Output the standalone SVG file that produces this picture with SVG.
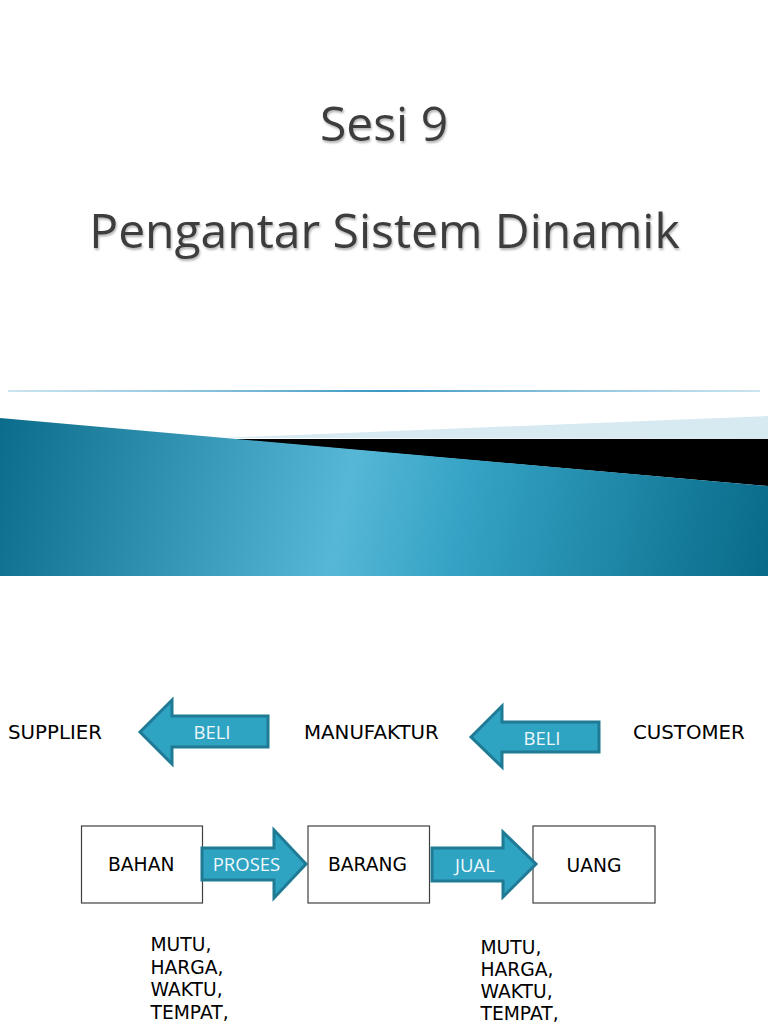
<svg xmlns="http://www.w3.org/2000/svg" width="768" height="1024" viewBox="0 0 768 1024">
<defs>
<linearGradient id="teal" gradientUnits="userSpaceOnUse" x1="0" y1="420" x2="768" y2="580">
<stop offset="0" stop-color="#0b6d8b"/>
<stop offset="0.45" stop-color="#57b7d6"/>
<stop offset="0.6" stop-color="#35a3c5"/>
<stop offset="1" stop-color="#086a88"/>
</linearGradient>
<linearGradient id="rule" gradientUnits="userSpaceOnUse" x1="8" y1="0" x2="760" y2="0">
<stop offset="0" stop-color="#7dbcd9" stop-opacity="0.4"/>
<stop offset="0.5" stop-color="#3a98c4"/>
<stop offset="1" stop-color="#7dbcd9" stop-opacity="0.4"/>
</linearGradient>
<filter id="shadow" x="-5%" y="-20%" width="110%" height="150%">
<feDropShadow dx="1" dy="2" stdDeviation="1.2" flood-color="#000" flood-opacity="0.3"/>
</filter>
</defs>
<style>
.title{font-family:"Open Sans","DejaVu Sans",sans-serif;font-size:48px;fill:#3c3c3c;text-anchor:middle}
.lbl{font-family:"DejaVu Sans","Verdana",sans-serif;font-size:18.7px;fill:#000}
.top{font-size:19.8px}
.box{fill:#fff;stroke:#404040;stroke-width:1.2}
.arrow{fill:#2fa3c2;stroke:#1f7a94;stroke-width:3;stroke-linejoin:miter}
.alab{font-family:"Open Sans","DejaVu Sans",sans-serif;font-size:18.5px;fill:#eef8fb;text-anchor:middle}
</style>
<rect width="768" height="1024" fill="#fff"/>
<g id="title" filter="url(#shadow)">
<text class="title" x="384" y="141">Sesi 9</text>
<text class="title" x="384.5" y="248">Pengantar Sistem Dinamik</text>
</g>
<line x1="8" y1="391" x2="760" y2="391" stroke="url(#rule)" stroke-width="1.8"/>
<g id="banner">
<polygon points="220,438 768,416 768,439" fill="#d7e9f1"/>
<polygon points="228,439 768,439 768,486" fill="#000"/>
<polygon points="0,418 768,486 768,576 0,576" fill="url(#teal)"/>
</g>
<g id="supplier"><text class="lbl top" x="8" y="739">SUPPLIER</text></g>
<g id="manufaktur"><text class="lbl top" x="304" y="739">MANUFAKTUR</text></g>
<g id="customer"><text class="lbl top" x="633" y="739">CUSTOMER</text></g>
<g id="bahan"><rect class="box" x="81.5" y="826" width="121" height="77"/><text class="lbl" x="108" y="871">BAHAN</text></g>
<g id="barang"><rect class="box" x="308" y="826" width="121.5" height="77"/><text class="lbl" x="328" y="871">BARANG</text></g>
<g id="uang"><rect class="box" x="533" y="826" width="122" height="77"/><text class="lbl" x="566.5" y="872">UANG</text></g>
<g id="mutu-left"><text class="lbl" x="150.5" y="951">MUTU,</text><text class="lbl" x="150.5" y="973.5">HARGA,</text><text class="lbl" x="150.5" y="996">WAKTU,</text><text class="lbl" x="150.5" y="1018.5">TEMPAT,</text></g>
<g id="mutu-right"><text class="lbl" x="480.5" y="953.5">MUTU,</text><text class="lbl" x="480.5" y="975.5">HARGA,</text><text class="lbl" x="480.5" y="998">WAKTU,</text><text class="lbl" x="480.5" y="1020">TEMPAT,</text></g>
<g id="connectors">
<g id="beli1"><polygon class="arrow" points="140,732 172,700 172,716 268,716 268,747 172,747 172,764"/><text class="alab" x="212" y="738.5">BELI</text></g>
<g id="beli2"><polygon class="arrow" points="471,737 502,706 502,722 599,722 599,752 502,752 502,767"/><text class="alab" x="542" y="745">BELI</text></g>
<g id="proses"><polygon class="arrow" points="202,848 274,848 274,830 306,864 274,898 274,880 202,880"/><text class="alab" x="246.5" y="870.5">PROSES</text></g>
<g id="jual"><polygon class="arrow" points="432,848 503,848 503,832 536,864 503,897 503,881 432,881"/><text class="alab" x="475" y="871.5">JUAL</text></g>
</g>
</svg>
